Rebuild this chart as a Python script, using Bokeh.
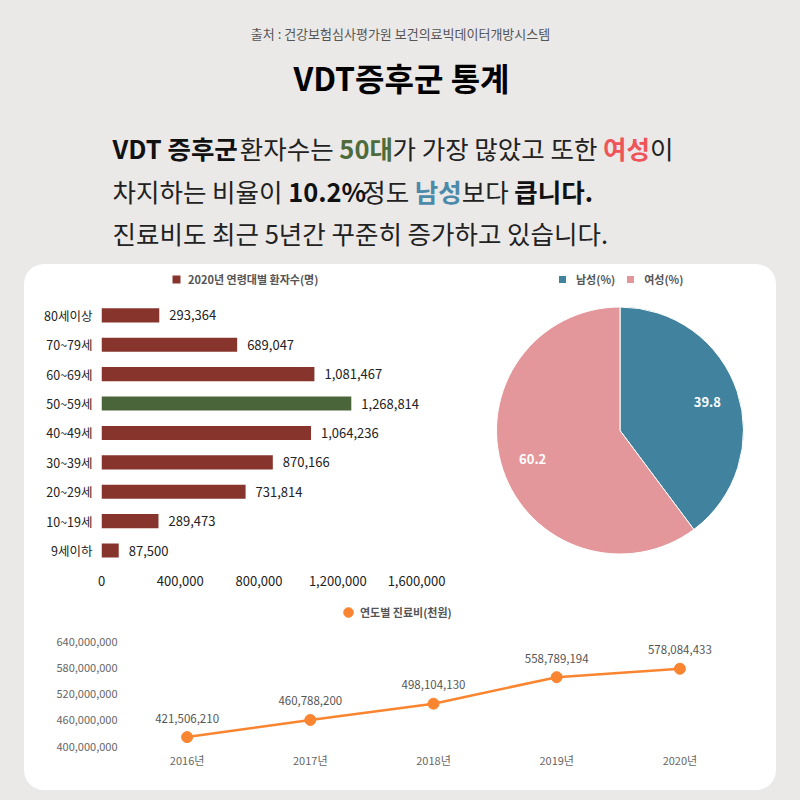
import math
from bokeh.plotting import figure
from bokeh.layouts import column, row
from bokeh.models import (ColumnDataSource, Range1d, FixedTicker, NumeralTickFormatter,
                          Legend, LegendItem, Spacer, FactorRange)
from bokeh.core.properties import value
from bokeh.embed import file_html
from bokeh.resources import INLINE

FONT = "Noto Sans CJK KR"

# ---------------- data ----------------
age_groups = ["80세이상", "70~79세", "60~69세", "50~59세", "40~49세",
              "30~39세", "20~29세", "10~19세", "9세이하"]
patients = [293364, 689047, 1081467, 1268814, 1064236, 870166, 731814, 289473, 87500]
bar_ticks = [0, 400000, 800000, 1200000, 1600000]
bar_legend = "2020년 연령대별 환자수(명)"

gender_labels = ["남성(%)", "여성(%)"]
gender_share = [39.8, 60.2]

years = ["2016년", "2017년", "2018년", "2019년", "2020년"]
costs = [421506210, 460788200, 498104130, 558789194, 578084433]
cost_ticks = [400000000, 460000000, 520000000, 580000000, 640000000]
line_legend = "연도별 진료비(천원)"

source_text = "출처 : 건강보험심사평가원 보건의료빅데이터개방시스템"
title_text = "VDT증후군 통계"

# ---------------- styles ----------------
PAGE_BG = "#EBE8E8"
TEXT = "#222222"
DARK = "#111111"
GREEN_T = "#4E6B3C"
RED_T = "#EF5459"
BLUE_T = "#4C8AAA"
BROWN = "#87352C"
GREEN = "#4B653B"
PIE_BLUE = "#41829F"
PIE_PINK = "#E4979A"
ORANGE = "#FA8530"

# spaces between segments are kept at the end of a segment (SVG drops leading spaces)
summary_lines = [
    [("VDT 증후군 ", "bold", DARK), ("환자수는 ", "normal", TEXT), ("50대", "bold", GREEN_T),
     ("가 가장 많았고 또한 ", "normal", TEXT), ("여성", "bold", RED_T), ("이", "normal", TEXT)],
    [("차지하는 비율이 ", "normal", TEXT), ("10.2%", "bold", DARK), ("정도 ", "normal", TEXT),
     ("남성", "bold", BLUE_T), ("보다 ", "normal", TEXT), ("큽니다.", "bold", DARK)],
    [("진료비도 최근 5년간 꾸준히 증가하고 있습니다.", "normal", TEXT)],
]


def text_width(s, size, bold):
    tot = 0.0
    lat = {"V": 0.56, "D": 0.63, "T": 0.51, ".": 0.26, ",": 0.26, "%": 0.84, " ": 0.224, ":": 0.26}
    for ch in s:
        hangul = "\uac00" <= ch <= "\ud7a3"
        if hangul:
            w = 0.92
        elif ch.isdigit():
            w = 0.555
        else:
            w = lat.get(ch, 0.55)
        if bold and not hangul and ch != " ":
            w *= 1.05
        tot += w
    return tot * size


def bare(p):
    p.outline_line_color = None
    p.grid.visible = False
    return p


# ---------------- header ----------------
head = figure(width=800, height=264, x_range=Range1d(0, 800), y_range=Range1d(264, 0),
              toolbar_location=None, output_backend="svg", min_border=0,
              x_axis_location=None, y_axis_location=None)
bare(head)
head.background_fill_color = PAGE_BG
head.border_fill_color = PAGE_BG
head.text(x=[400], y=[33], text=[source_text], text_font=value(FONT), text_font_size="13px",
          text_color="#555555", text_align="center", text_baseline="middle")
head.text(x=[401], y=[76], text=[title_text], text_font=value(FONT), text_font_size="32px",
          text_font_style="bold", text_color="#000000", text_align="center", text_baseline="middle")

SUM_SIZE = 25.5
line_y = [147, 190, 232]
for li, segs in enumerate(summary_lines):
    xcur = 112
    for txt, style, col in segs:
        head.text(x=[xcur], y=[line_y[li]], text=[txt.rstrip()], text_font=value(FONT),
                  text_font_size=f"{SUM_SIZE}px", text_font_style=style, text_color=col,
                  text_align="left", text_baseline="middle")
        xcur += text_width(txt, SUM_SIZE, style == "bold")

# ---------------- bar chart ----------------
px_per = 315 / 1600000
bar = figure(width=446, height=331, x_range=Range1d(0, 359 / px_per),
             y_range=Range1d(8.51, -1.73), toolbar_location=None, output_backend="svg",
             min_border_left=77, min_border_right=10, min_border_top=0, min_border_bottom=30)
bare(bar)
bar.background_fill_color = None
bar.border_fill_color = None
maxv = max(patients)
bsrc = ColumnDataSource(dict(
    idx=list(range(len(age_groups))), value=patients,
    color=[GREEN if v == maxv else BROWN for v in patients],
    label=[f"{v:,}" for v in patients]))
br = bar.hbar(y="idx", left=0, right="value", height=0.48, fill_color="color",
              line_color=None, source=bsrc)
bar.text(x="value", y="idx", text="label", x_offset=10, source=bsrc, text_font=value(FONT),
         text_font_size="13px", text_color=TEXT, text_baseline="middle", text_align="left")
bar.yaxis.ticker = FixedTicker(ticks=list(range(len(age_groups))))
bar.yaxis.major_label_overrides = {i: g for i, g in enumerate(age_groups)}
bar.xaxis.ticker = FixedTicker(ticks=bar_ticks)
bar.xaxis.formatter = NumeralTickFormatter(format="0,0")
for ax in (bar.xaxis, bar.yaxis):
    ax.axis_line_color = None
    ax.major_tick_line_color = None
    ax.minor_tick_line_color = None
    ax.major_tick_out = 0
    ax.minor_tick_out = 0
    ax.major_label_text_font = FONT
    ax.major_label_text_color = TEXT
    ax.major_label_text_font_size = "13px"
bar.yaxis.major_label_text_font_size = "12.5px"
bar.yaxis.major_label_standoff = 9
bar.xaxis.major_label_standoff = 10
bleg = Legend(items=[LegendItem(label=bar_legend, renderers=[br], index=0)],
              location=(70, 278), orientation="horizontal", glyph_width=10, glyph_height=10,
              label_text_font=FONT, label_text_font_size="11px", label_text_color="#555555",
              label_text_font_style="bold", padding=0, margin=0, label_standoff=7,
              label_height=10, background_fill_alpha=0, border_line_alpha=0)
bar.add_layout(bleg)

# ---------------- pie ----------------
# frame is aligned with the bar chart frame (top 264, bottom 565 on the page)
pie = figure(width=306, height=331, x_range=Range1d(0, 306), y_range=Range1d(0, 301),
             toolbar_location=None, output_backend="svg", min_border_left=0,
             min_border_right=0, min_border_top=0, min_border_bottom=30,
             x_axis_location=None, y_axis_location=None)
bare(pie)
pie.background_fill_color = None
pie.border_fill_color = None
cx, cy, R = 149.5, 135, 123.5
tot = sum(gender_share)
cum = [0.0]
for v in gender_share:
    cum.append(cum[-1] + v / tot)
starts = [math.pi / 2 - 2 * math.pi * cum[i + 1] for i in range(len(gender_share))]
ends = [math.pi / 2 - 2 * math.pi * cum[i] for i in range(len(gender_share))]
mids = [(s + e) / 2 for s, e in zip(starts, ends)]
psrc = ColumnDataSource(dict(
    start=starts, end=ends, color=[PIE_BLUE, PIE_PINK], label=gender_labels,
    tx=[cx + 0.745 * R * math.cos(m) for m in mids],
    ty=[cy + 0.745 * R * math.sin(m) for m in mids],
    txt=[f"{v:.1f}" for v in gender_share]))
pr = pie.wedge(x=cx, y=cy, radius=R, start_angle="start", end_angle="end",
               direction="anticlock", fill_color="color", line_color="white",
               line_width=1, source=psrc)
pie.text(x="tx", y="ty", text="txt", source=psrc, text_font=value(FONT),
         text_font_size="13px", text_font_style="bold", text_color="white",
         text_align="center", text_baseline="middle")
pleg = Legend(items=[LegendItem(label=gender_labels[i], renderers=[pr], index=i)
                     for i in range(len(gender_labels))],
              location=(87, 278), orientation="horizontal", glyph_width=10, glyph_height=10,
              label_text_font=FONT, label_text_font_size="11px", label_text_color="#555555",
              label_text_font_style="bold", padding=0, margin=0, label_standoff=9,
              spacing=10, label_height=10, background_fill_alpha=0, border_line_alpha=0)
pie.add_layout(pleg)

# ---------------- line chart ----------------
ln = figure(width=752, height=195, x_range=FactorRange(*years),
            y_range=Range1d(395.42e6, 734.35e6), toolbar_location=None, output_backend="svg",
            min_border_left=101, min_border_right=35, min_border_top=5, min_border_bottom=42)
bare(ln)
ln.background_fill_color = None
ln.border_fill_color = None
lsrc = ColumnDataSource(dict(year=years, cost=costs, label=[f"{v:,}" for v in costs]))
ln.line(x="year", y="cost", source=lsrc, line_color=ORANGE, line_width=2.5)
lr = ln.scatter(x="year", y="cost", source=lsrc, size=11, fill_color=ORANGE, line_color=ORANGE)
ln.text(x="year", y="cost", text="label", source=lsrc, y_offset=-19, text_font=value(FONT),
        text_font_size="11.5px", text_color="#555555", text_align="center",
        text_baseline="middle")
ln.yaxis.ticker = FixedTicker(ticks=cost_ticks)
ln.yaxis.formatter = NumeralTickFormatter(format="0,0")
for ax in (ln.xaxis, ln.yaxis):
    ax.axis_line_color = None
    ax.major_tick_line_color = None
    ax.minor_tick_line_color = None
    ax.major_tick_out = 0
    ax.minor_tick_out = 0
    ax.major_label_text_font = FONT
    ax.major_label_text_color = "#666666"
    ax.major_label_text_font_size = "11px"
ln.yaxis.major_label_standoff = 8
ln.xaxis.major_label_standoff = 3
lleg = Legend(items=[LegendItem(label=line_legend, renderers=[lr])],
              location=(211, 124), orientation="horizontal", glyph_width=24, glyph_height=24,
              label_text_font=FONT, label_text_font_size="11px", label_text_color="#555555",
              label_text_font_style="bold", padding=0, margin=0, label_standoff=0,
              background_fill_alpha=0, border_line_alpha=0)
ln.add_layout(lleg)

# ---------------- layout ----------------
card = column(row(bar, pie, spacing=0), ln, spacing=0, width=752, height=526,
              styles={"background-color": "white", "border-radius": "20px"})
page = column(head, row(Spacer(width=24, height=526), card, Spacer(width=24, height=526), spacing=0),
              Spacer(width=800, height=10), spacing=0, width=800, height=800,
              styles={"background-color": PAGE_BG})

open("out.html", "w").write(file_html(page, INLINE))
